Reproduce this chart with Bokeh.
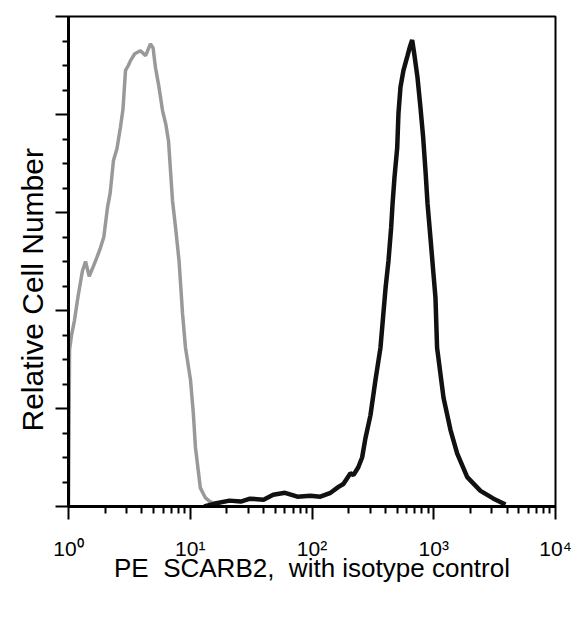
from bokeh.plotting import figure
from bokeh.models import Range1d, FixedTicker, Title, CustomJSTickFormatter
from bokeh.embed import file_html
from bokeh.resources import INLINE

# Isotype control (grey) histogram
iso_x = [1.0, 1.02, 1.06, 1.12, 1.2, 1.3, 1.38, 1.48, 1.6, 1.72, 1.83, 1.95, 2.09, 2.2, 2.34,
         2.5, 2.67, 2.8, 2.94, 3.1, 3.23, 3.5, 3.9, 4.3, 4.71, 4.95, 5.18, 5.5, 5.92, 6.3,
         6.63, 7.15, 7.57, 8.1, 8.64, 9.14, 10.05, 10.6, 11.04, 11.6, 12.1, 13.3, 14.5, 16.1]
iso_y = [0.0, 1.6, 1.75, 1.9, 2.15, 2.4, 2.5, 2.35, 2.45, 2.55, 2.64, 2.75, 3.05, 3.2, 3.53,
         3.65, 3.87, 4.05, 4.45, 4.5, 4.55, 4.62, 4.65, 4.6, 4.72, 4.68, 4.48, 4.3, 4.04, 3.9,
         3.73, 3.12, 2.85, 2.5, 1.97, 1.62, 1.29, 0.95, 0.6, 0.38, 0.19, 0.09, 0.05, 0.03]

# PE SCARB2 (black) histogram
scarb_x = [13, 16, 21, 26, 31, 40, 48, 60, 76, 97, 117, 142, 165, 181, 207, 219, 240, 258, 275,
           302, 332, 365, 402, 425, 447, 459, 476, 501, 513, 533, 564, 609, 640, 665, 695, 735,
           778, 818, 855, 889, 940, 989, 1033, 1065, 1203, 1373, 1559, 1884, 2421, 3097, 3884]
scarb_y = [0.0, 0.03, 0.06, 0.05, 0.08, 0.07, 0.12, 0.14, 0.1, 0.11, 0.1, 0.14, 0.2, 0.23, 0.34,
           0.32, 0.4, 0.5, 0.7, 0.93, 1.29, 1.62, 2.23, 2.51, 2.85, 3.09, 3.36, 3.66, 4.01, 4.28,
           4.45, 4.6, 4.7, 4.76, 4.6, 4.38, 4.07, 3.77, 3.43, 3.09, 2.74, 2.41, 2.13, 1.62, 1.11,
           0.78, 0.54, 0.3, 0.16, 0.08, 0.02]

xtick_values = [1, 10, 100, 1000, 10000]
xtick_labels = ["10\u2070", "10\u00b9", "10\u00b2", "10\u00b3", "10\u2074"]
xminor_values = [m * 10 ** d for d in range(4) for m in range(2, 10)]
ytick_values = [0, 1, 2, 3, 4, 5]
yminor_values = [i * 0.25 for i in range(21) if i % 4]

y_label_text = "Relative Cell Number"
x_label_text = "PE\u00a0 SCARB2,\u00a0 with isotype control"

FONT = "Liberation Sans"

p = figure(width=575, height=604, x_axis_type="log",
           x_range=Range1d(1, 10000), y_range=Range1d(0, 5),
           output_backend="svg", toolbar_location=None,
           min_border_left=68, min_border_right=20, min_border_top=16, min_border_bottom=98)

p.background_fill_color = "white"
p.border_fill_color = "white"
p.grid.visible = False
p.outline_line_color = "black"
p.outline_line_width = 2

# x axis
xa = p.xaxis[0]
xa.ticker = FixedTicker(ticks=xtick_values, minor_ticks=xminor_values)
xa.formatter = CustomJSTickFormatter(
    args=dict(vals=xtick_values, labs=xtick_labels),
    code="const i = vals.findIndex(v => Math.abs(v - tick) < 1e-6 * v); return i >= 0 ? labs[i] : '';")
xa.axis_line_width = 3
xa.axis_line_color = "black"
xa.major_tick_out = 13
xa.major_tick_in = 0
xa.minor_tick_out = 7
xa.minor_tick_in = 0
xa.major_tick_line_width = 2
xa.minor_tick_line_width = 2
xa.major_label_text_font = FONT
xa.major_label_text_font_size = "21px"
xa.major_label_text_color = "black"
xa.major_label_standoff = 17
xa.axis_label = x_label_text
xa.axis_label_text_font = FONT
xa.axis_label_text_font_size = "26px"
xa.axis_label_text_font_style = "normal"
xa.axis_label_text_color = "black"
xa.axis_label_standoff = -10

# y axis
ya = p.yaxis[0]
ya.ticker = FixedTicker(ticks=ytick_values, minor_ticks=yminor_values)
ya.formatter = CustomJSTickFormatter(code="return '';")
ya.axis_line_width = 3
ya.axis_line_color = "black"
ya.major_tick_out = 13
ya.major_tick_in = 0
ya.minor_tick_out = 6
ya.minor_tick_in = 0
ya.major_tick_line_width = 2
ya.minor_tick_line_width = 2
ya.major_label_standoff = 10

p.line(iso_x, iso_y, line_color="#999999", line_width=3.5)
p.line(scarb_x, scarb_y, line_color="#111111", line_width=4.5)

p.add_layout(Title(text=y_label_text, align="left", offset=75, text_font=FONT,
                   text_font_size="30px", text_font_style="normal", text_color="black",
                   standoff=14), "left")

open("out.html", "w").write(file_html(p, INLINE))
